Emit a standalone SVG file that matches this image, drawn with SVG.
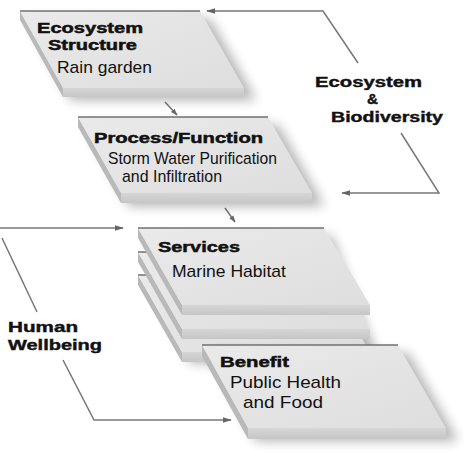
<svg xmlns="http://www.w3.org/2000/svg" width="474" height="474" viewBox="0 0 474 474">
<defs>
<style>
.top{fill:url(#gTop);}
.side{fill:#b9b9b9;}
.front{fill:url(#gFront);}
.edge{stroke:#707070;stroke-width:1.5;fill:none;}
.head{font-family:"Liberation Sans",Arial,sans-serif;font-weight:bold;font-size:15px;fill:#111;stroke:#111;stroke-width:0.5;}
.body{font-family:"Liberation Sans Narrow","Liberation Sans",Arial,sans-serif;font-size:17px;fill:#111;}
.lab{font-family:"Liberation Sans",Arial,sans-serif;font-weight:bold;font-size:14px;fill:#111;stroke:#111;stroke-width:0.4;}
.conn{stroke:#777;stroke-width:1.5;fill:none;}
.shadow{fill:#000;opacity:0.3;}
</style>
<linearGradient id="gTop" x1="0" y1="0" x2="1" y2="1">
<stop offset="0" stop-color="#eaeaea"/>
<stop offset="1" stop-color="#dedede"/>
</linearGradient>
<linearGradient id="gFront" x1="0" y1="0" x2="0" y2="1">
<stop offset="0" stop-color="#d6d6d6"/>
<stop offset="1" stop-color="#c6c6c6"/>
</linearGradient>
<filter id="sh" x="-20%" y="-20%" width="150%" height="160%">
<feGaussianBlur stdDeviation="6"/>
</filter>
<marker id="ar" viewBox="0 0 10 10" refX="9" refY="5" markerWidth="7" markerHeight="7" orient="auto" markerUnits="userSpaceOnUse">
<path d="M0,1.5 L10,5 L0,8.5 Z" fill="#666"/>
</marker>
<marker id="ar2" viewBox="0 0 10 10" refX="9" refY="5" markerWidth="9" markerHeight="9" orient="auto" markerUnits="userSpaceOnUse">
<path d="M0,2 L10,5 L0,8 Z" fill="#666"/>
</marker>
</defs>
<rect width="474" height="474" fill="#ffffff"/>

<g id="connectors">
<path class="conn" d="M358,63 L323,11 L207,11" marker-end="url(#ar2)"/>
<path class="conn" d="M401,133 L439,193 L342,193" marker-end="url(#ar2)"/>
<path class="conn" d="M0,228 L123,228" marker-end="url(#ar2)"/>
<path class="conn" d="M2,238 L37,312"/>
<path class="conn" d="M63,360 L94,420 L231,420" marker-end="url(#ar2)"/>
<path class="conn" d="M165,102 L177,115" marker-end="url(#ar)"/>
<path class="conn" d="M225,208 L235,222" marker-end="url(#ar)"/>
<path class="conn" d="M285,320 L297,333" marker-end="url(#ar)"/>
</g>

<g id="ecosystem-structure">
<polygon class="shadow" points="28,19 210,19 256,100 71,100" filter="url(#sh)"/>
<polygon class="side" points="20,11 63,88 63,97 20,20"/>
<polygon class="front" points="63,88 244,88 244,97 63,97"/>
<polygon class="top" points="20,11 200,11 244,88 63,88"/>
<line class="edge" x1="20" y1="11" x2="200" y2="11"/>
<text class="head" x="37" y="33" textLength="106" lengthAdjust="spacingAndGlyphs">Ecosystem</text>
<text class="head" x="48" y="50" textLength="89" lengthAdjust="spacingAndGlyphs">Structure</text>
<text class="body" x="57" y="73" textLength="95" lengthAdjust="spacingAndGlyphs">Rain garden</text>
</g>

<g id="process-function">
<polygon class="shadow" points="86,125 278,125 324,206 129,206" filter="url(#sh)"/>
<polygon class="side" points="78,117 121,193 121,203 78,127"/>
<polygon class="front" points="121,193 312,193 312,203 121,203"/>
<polygon class="top" points="78,117 268,117 312,193 121,193"/>
<line class="edge" x1="78" y1="117" x2="268" y2="117"/>
<text class="head" x="94" y="143" textLength="169" lengthAdjust="spacingAndGlyphs">Process/Function</text>
<text class="body" x="108" y="164" textLength="169" lengthAdjust="spacingAndGlyphs">Storm Water Purification</text>
<text class="body" x="122" y="182" textLength="100" lengthAdjust="spacingAndGlyphs">and Infiltration</text>
</g>

<g id="services">
<polygon class="shadow" points="146,236 332,236 380,363 190,363" filter="url(#sh)"/>
<polygon class="side" points="138,275 182,352 182,362 138,285"/>
<polygon class="front" points="182,352 370,352 370,362 182,362"/>
<polygon class="top" points="138,275 324,275 370,352 182,352"/>
<line class="edge" x1="138" y1="275" x2="324" y2="275"/>
<polygon class="side" points="138,252 182,329 182,339 138,262"/>
<polygon class="front" points="182,329 370,329 370,339 182,339"/>
<polygon class="top" points="138,252 324,252 370,329 182,329"/>
<line class="edge" x1="138" y1="252" x2="324" y2="252"/>
<polygon class="side" points="138,228 182,305 182,315 138,238"/>
<polygon class="front" points="182,305 370,305 370,315 182,315"/>
<polygon class="top" points="138,228 324,228 370,305 182,305"/>
<line class="edge" x1="138" y1="228" x2="324" y2="228"/>
<text class="head" x="158" y="252" textLength="82" lengthAdjust="spacingAndGlyphs">Services</text>
<text class="body" x="172" y="277" textLength="114" lengthAdjust="spacingAndGlyphs">Marine Habitat</text>
</g>

<g id="benefit">
<polygon class="shadow" points="210,353 408,353 458,441 256,441" filter="url(#sh)"/>
<polygon class="side" points="202,345 248,428 248,439 202,356"/>
<polygon class="front" points="248,428 446,428 446,439 248,439"/>
<polygon class="top" points="202,345 398,345 446,428 248,428"/>
<line class="edge" x1="202" y1="345" x2="398" y2="345"/>
<text class="head" x="220" y="367" textLength="69" lengthAdjust="spacingAndGlyphs">Benefit</text>
<text class="body" x="230" y="388" textLength="111" lengthAdjust="spacingAndGlyphs">Public Health</text>
<text class="body" x="243" y="408" textLength="80" lengthAdjust="spacingAndGlyphs">and Food</text>
</g>

<g id="labels">
<text class="lab" x="315" y="87" textLength="107" lengthAdjust="spacingAndGlyphs">Ecosystem</text>
<text class="lab" x="367" y="104" textLength="11" lengthAdjust="spacingAndGlyphs">&amp;</text>
<text class="lab" x="331" y="122" textLength="112" lengthAdjust="spacingAndGlyphs">Biodiversity</text>
<text class="lab" x="8" y="332" textLength="70" lengthAdjust="spacingAndGlyphs">Human</text>
<text class="lab" x="8" y="350" textLength="94" lengthAdjust="spacingAndGlyphs">Wellbeing</text>
</g>
</svg>
